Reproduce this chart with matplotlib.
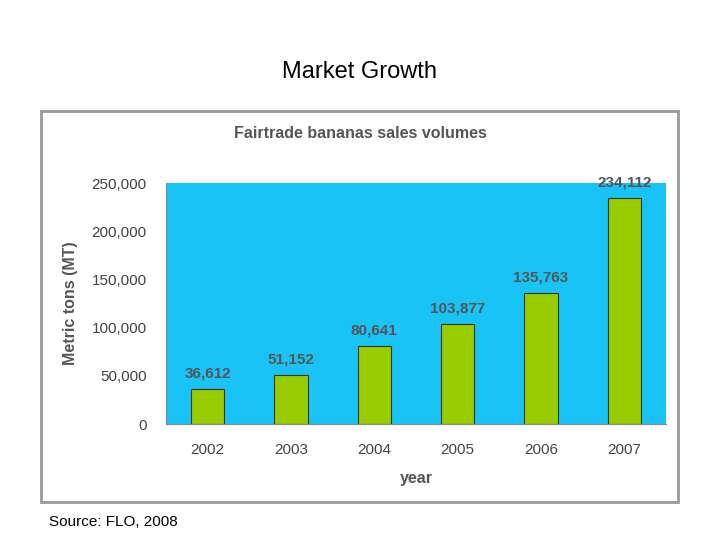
import matplotlib.pyplot as plt
from matplotlib.patches import Rectangle

years = ['2002', '2003', '2004', '2005', '2006', '2007']
volumes = [36612, 51152, 80641, 103877, 135763, 234112]
yticks = [0, 50000, 100000, 150000, 200000, 250000]

plt.rcParams['font.family'] = ['Liberation Sans', 'DejaVu Sans']

fig = plt.figure(figsize=(7.2, 5.4), dpi=100)
fig.text(0.5, 1 - 72 / 540, 'Market Growth', ha='center', va='center', fontsize=17)

# outer framed box
fig.patches.append(Rectangle((41 / 720, 1 - 502 / 540), 637 / 720, 391 / 540,
                             transform=fig.transFigure, fill=False,
                             edgecolor='#999999', linewidth=2))
fig.text(360 / 720, 1 - 134 / 540, 'Fairtrade bananas sales volumes', ha='center',
         va='center', fontsize=11.5, fontweight='bold', color='#555555')

ax = fig.add_axes([166 / 720, 1 - 424 / 540, 500 / 720, 241 / 540])
ax.set_facecolor('#19C3F5')
x = range(len(years))
ax.bar(x, volumes, width=0.4, color='#99CC00', edgecolor='#333333', linewidth=0.8)
for i, v in enumerate(volumes):
    ax.text(i, v + 9000, f'{v:,}', ha='center', va='bottom', fontsize=11,
            fontweight='bold', color='#555555')
ax.set_xlim(-0.5, len(years) - 0.5)
ax.set_ylim(0, 250000)
ax.set_xticks(list(x))
ax.set_xticklabels(years, color='#444444', fontsize=11)
ax.set_yticks(yticks)
ax.set_yticklabels([f'{t:,}' for t in yticks], color='#444444', fontsize=11)
ax.tick_params(axis='x', length=0, pad=14)
ax.tick_params(axis='y', length=0, pad=14)
for s in ['top', 'right']:
    ax.spines[s].set_visible(False)
ax.spines['left'].set_color('#888888')
ax.spines['bottom'].set_color('#888888')
ax.set_xlabel('year', fontweight='bold', color='#555555', fontsize=11.5, labelpad=10)
ax.set_ylabel('Metric tons (MT)', fontweight='bold', color='#555555', fontsize=11.5, labelpad=10)

fig.text(49 / 720, 1 - 522 / 540, 'Source: FLO, 2008', ha='left', va='center', fontsize=11)
fig.savefig('out.png', dpi=100)
